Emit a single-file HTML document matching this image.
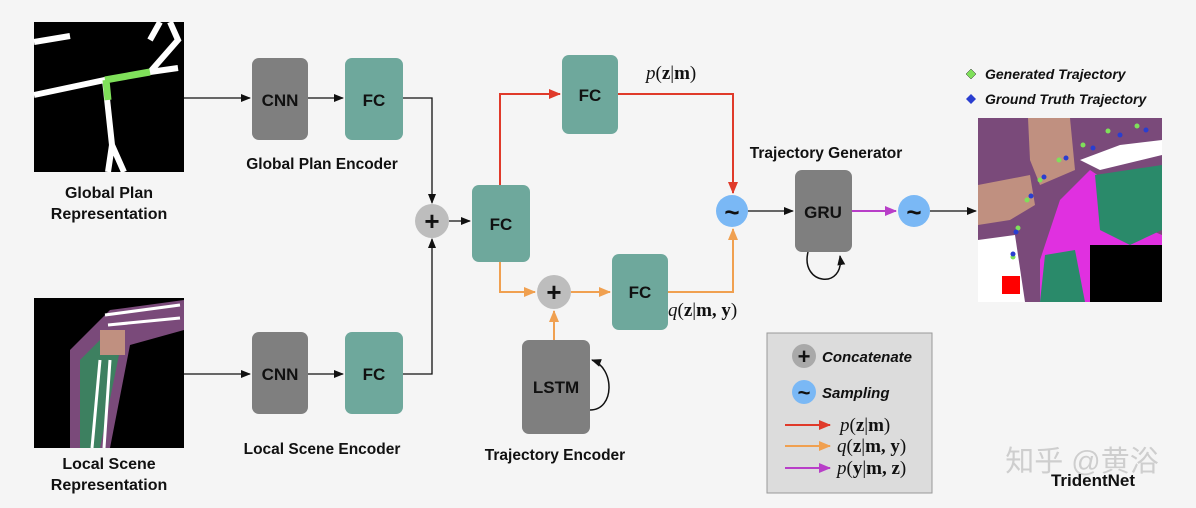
<!DOCTYPE html>
<html><head><meta charset="utf-8"><style>
html,body{margin:0;padding:0;background:#f5f5f5}
svg{display:block}
text{font-family:"Liberation Sans",sans-serif;font-weight:bold;fill:#111}
.m{font-family:"Liberation Serif",serif;font-weight:normal;font-size:19px}
</style></head><body>
<svg width="1196" height="508" viewBox="0 0 1196 508" xmlns="http://www.w3.org/2000/svg">
<defs>
<marker id="k" markerWidth="10" markerHeight="8" refX="9" refY="4" orient="auto" markerUnits="userSpaceOnUse"><path d="M0,0L10,4L0,8z" fill="#111"/></marker>
<marker id="r" markerWidth="12" markerHeight="10" refX="11" refY="5" orient="auto" markerUnits="userSpaceOnUse"><path d="M0,0L12,5L0,10z" fill="#e03a2a"/></marker>
<marker id="o" markerWidth="12" markerHeight="10" refX="11" refY="5" orient="auto" markerUnits="userSpaceOnUse"><path d="M0,0L12,5L0,10z" fill="#f0a050"/></marker>
<marker id="p" markerWidth="12" markerHeight="10" refX="11" refY="5" orient="auto" markerUnits="userSpaceOnUse"><path d="M0,0L12,5L0,10z" fill="#b83ec8"/></marker>
</defs>
<!-- global plan image -->
<rect x="34" y="22" width="150" height="150" fill="#000"/>
<path d="M34,42 L70,36 M34,95 L105,80 L150,72 L178,68 M105,80 L112,145 L108,172 M112,145 L124,172 M150,72 L178,40 L170,22 M160,22 L150,40" stroke="#fff" stroke-width="6" fill="none"/>
<path d="M105,80 L150,72 M106,80 L108,100" stroke="#7fe05a" stroke-width="7" fill="none"/>
<text x="109" y="198" font-size="16" text-anchor="middle">Global Plan</text>
<text x="109" y="219" font-size="16" text-anchor="middle">Representation</text>
<!-- local scene image -->
<rect x="34" y="298" width="150" height="150" fill="#000"/>
<path d="M70,350 L110,310 L184,300 L184,330 L130,345 L110,448 L70,448z" fill="#7a4a7a"/>
<path d="M80,360 L100,340 L120,350 L100,448 L80,448z" fill="#3d8060"/>
<path d="M105,315 L180,305 M108,325 L180,318 M100,360 L92,448 M110,360 L104,448" stroke="#fff" stroke-width="3"/>
<rect x="100" y="330" width="25" height="25" fill="#c09080"/>
<text x="109" y="469" font-size="16" text-anchor="middle">Local Scene</text>
<text x="109" y="490" font-size="16" text-anchor="middle">Representation</text>
<!-- blocks -->
<rect x="252" y="58" width="56" height="82" rx="7" fill="#7f7f7f"/><text x="280" y="106" font-size="17" text-anchor="middle">CNN</text>
<rect x="345" y="58" width="58" height="82" rx="7" fill="#6ea89c"/><text x="374" y="106" font-size="17" text-anchor="middle">FC</text>
<text x="322" y="169" font-size="15.5" text-anchor="middle">Global Plan Encoder</text>
<rect x="252" y="332" width="56" height="82" rx="7" fill="#7f7f7f"/><text x="280" y="380" font-size="17" text-anchor="middle">CNN</text>
<rect x="345" y="332" width="58" height="82" rx="7" fill="#6ea89c"/><text x="374" y="380" font-size="17" text-anchor="middle">FC</text>
<text x="322" y="454" font-size="15.5" text-anchor="middle">Local Scene Encoder</text>
<line x1="184" y1="98" x2="250" y2="98" stroke="#111" stroke-width="1.3" marker-end="url(#k)"/>
<line x1="308" y1="98" x2="343" y2="98" stroke="#111" stroke-width="1.3" marker-end="url(#k)"/>
<line x1="184" y1="374" x2="250" y2="374" stroke="#111" stroke-width="1.3" marker-end="url(#k)"/>
<line x1="308" y1="374" x2="343" y2="374" stroke="#111" stroke-width="1.3" marker-end="url(#k)"/>
<path d="M403,98 H432 V203" stroke="#111" stroke-width="1.3" fill="none" marker-end="url(#k)"/>
<path d="M403,374 H432 V239" stroke="#111" stroke-width="1.3" fill="none" marker-end="url(#k)"/>
<circle cx="432" cy="221" r="17" fill="#bdbdbd"/><text x="432" y="230" font-size="26" text-anchor="middle">+</text>
<line x1="449" y1="221" x2="470" y2="221" stroke="#111" stroke-width="1.3" marker-end="url(#k)"/>
<rect x="472" y="185" width="58" height="77" rx="7" fill="#6ea89c"/><text x="501" y="230" font-size="17" text-anchor="middle">FC</text>
<rect x="562" y="55" width="56" height="79" rx="7" fill="#6ea89c"/><text x="590" y="101" font-size="17" text-anchor="middle">FC</text>
<path d="M500,185 V94 H560" stroke="#e03a2a" stroke-width="2" fill="none" marker-end="url(#r)"/>
<path d="M618,94 H733 V193" stroke="#e03a2a" stroke-width="2" fill="none" marker-end="url(#r)"/>
<text x="646" y="79" class="m"><tspan font-style="italic">p</tspan>(<tspan font-weight="bold">z</tspan>|<tspan font-weight="bold">m</tspan>)</text>
<path d="M500,262 V292 H535" stroke="#f0a050" stroke-width="2" fill="none" marker-end="url(#o)"/>
<circle cx="554" cy="292" r="17" fill="#bdbdbd"/><text x="554" y="301" font-size="26" text-anchor="middle">+</text>
<line x1="571" y1="292" x2="610" y2="292" stroke="#f0a050" stroke-width="2" marker-end="url(#o)"/>
<rect x="612" y="254" width="56" height="76" rx="7" fill="#6ea89c"/><text x="640" y="298" font-size="17" text-anchor="middle">FC</text>
<path d="M668,292 H733 V229" stroke="#f0a050" stroke-width="2" fill="none" marker-end="url(#o)"/>
<text x="668" y="316" class="m"><tspan font-style="italic">q</tspan>(<tspan font-weight="bold">z</tspan>|<tspan font-weight="bold">m, y</tspan>)</text>
<rect x="522" y="340" width="68" height="94" rx="7" fill="#7f7f7f"/><text x="556" y="393" font-size="17" text-anchor="middle">LSTM</text>
<line x1="554" y1="340" x2="554" y2="311" stroke="#f0a050" stroke-width="2" marker-end="url(#o)"/>
<path d="M590,410 C615,410 615,368 592,360" stroke="#111" stroke-width="1.5" fill="none" marker-end="url(#k)"/>
<text x="555" y="460" font-size="15.5" text-anchor="middle">Trajectory Encoder</text>
<circle cx="732" cy="211" r="16" fill="#7ab8f5"/><text x="732" y="221" font-size="26" text-anchor="middle">~</text>
<line x1="748" y1="211" x2="793" y2="211" stroke="#111" stroke-width="1.3" marker-end="url(#k)"/>
<rect x="795" y="170" width="57" height="82" rx="7" fill="#7f7f7f"/><text x="823" y="218" font-size="17" text-anchor="middle">GRU</text>
<text x="826" y="158" font-size="15.5" text-anchor="middle">Trajectory Generator</text>
<path d="M808,252 C800,285 845,290 840,256" stroke="#111" stroke-width="1.5" fill="none" marker-end="url(#k)"/>
<line x1="852" y1="211" x2="896" y2="211" stroke="#b83ec8" stroke-width="2" marker-end="url(#p)"/>
<circle cx="914" cy="211" r="16" fill="#7ab8f5"/><text x="914" y="221" font-size="26" text-anchor="middle">~</text>
<line x1="930" y1="211" x2="976" y2="211" stroke="#111" stroke-width="1.3" marker-end="url(#k)"/>
<!-- result image -->
<rect x="978" y="118" width="184" height="184" fill="#7a4a7a"/>
<path d="M1028,118 L1070,118 L1075,170 L1040,185 L1030,160z" fill="#c09080"/>
<path d="M978,185 L1030,175 L1035,205 L1010,220 L978,225z" fill="#c09080"/>
<path d="M1040,260 L1060,200 L1090,170 L1120,190 L1150,230 L1162,235 L1162,302 L1040,302z" fill="#e030e0"/>
<path d="M1095,175 L1162,165 L1162,230 L1130,245 L1100,230z" fill="#2a8a6a"/>
<path d="M1040,302 L1045,255 L1075,250 L1085,302z" fill="#2a8a6a"/>
<rect x="1090" y="245" width="72" height="57" fill="#000"/>
<path d="M1080,160 L1120,145 L1162,140 L1162,155 L1100,170z" fill="#fff"/>
<path d="M978,240 L1015,235 L1025,302 L978,302z" fill="#fff"/>
<rect x="1002" y="276" width="18" height="18" fill="#f00"/>
<g fill="#7fe05a"><circle cx="1013" cy="257" r="2.5"/><circle cx="1018" cy="228" r="2.5"/><circle cx="1027" cy="200" r="2.5"/><circle cx="1040" cy="180" r="2.5"/><circle cx="1059" cy="160" r="2.5"/><circle cx="1083" cy="145" r="2.5"/><circle cx="1108" cy="131" r="2.5"/><circle cx="1137" cy="126" r="2.5"/></g>
<g fill="#2a3ed0"><circle cx="1013" cy="254" r="2.5"/><circle cx="1016" cy="232" r="2.5"/><circle cx="1031" cy="196" r="2.5"/><circle cx="1044" cy="177" r="2.5"/><circle cx="1066" cy="158" r="2.5"/><circle cx="1093" cy="148" r="2.5"/><circle cx="1120" cy="135" r="2.5"/><circle cx="1146" cy="130" r="2.5"/></g>
<path d="M966,74 l5,-5 l5,5 l-5,5z" fill="#7fe05a" stroke="#333" stroke-width=".5"/>
<path d="M966,99 l5,-5 l5,5 l-5,5z" fill="#2a3ed0"/>
<text x="985" y="79" font-size="14" font-style="italic">Generated Trajectory</text>
<text x="985" y="104" font-size="14" font-style="italic">Ground Truth Trajectory</text>
<!-- legend -->
<rect x="767" y="333" width="165" height="160" fill="#dcdcdc" stroke="#999" stroke-width="1"/>
<circle cx="804" cy="356" r="12" fill="#a9a9a9"/><text x="804" y="364" font-size="22" text-anchor="middle">+</text>
<text x="822" y="362" font-size="15" font-style="italic">Concatenate</text>
<circle cx="804" cy="392" r="12" fill="#7ab8f5"/><text x="804" y="400" font-size="22" text-anchor="middle">~</text>
<text x="822" y="398" font-size="15" font-style="italic">Sampling</text>
<line x1="785" y1="425" x2="830" y2="425" stroke="#e03a2a" stroke-width="2" marker-end="url(#r)"/>
<line x1="785" y1="446" x2="830" y2="446" stroke="#f0a050" stroke-width="2" marker-end="url(#o)"/>
<line x1="785" y1="468" x2="830" y2="468" stroke="#b83ec8" stroke-width="2" marker-end="url(#p)"/>
<text x="840" y="431" class="m"><tspan font-style="italic">p</tspan>(<tspan font-weight="bold">z</tspan>|<tspan font-weight="bold">m</tspan>)</text>
<text x="837" y="452" class="m"><tspan font-style="italic">q</tspan>(<tspan font-weight="bold">z</tspan>|<tspan font-weight="bold">m, y</tspan>)</text>
<text x="837" y="474" class="m"><tspan font-style="italic">p</tspan>(<tspan font-weight="bold">y</tspan>|<tspan font-weight="bold">m, z</tspan>)</text>
<text x="1082" y="471" font-size="29" text-anchor="middle" style="font-family:'Liberation Sans','Noto Sans CJK SC',sans-serif;font-weight:normal;fill:#c8c8c8;opacity:.85">知乎 @黄浴</text>
<text x="1093" y="486" font-size="17" text-anchor="middle">TridentNet</text>
</svg>
</body></html>
